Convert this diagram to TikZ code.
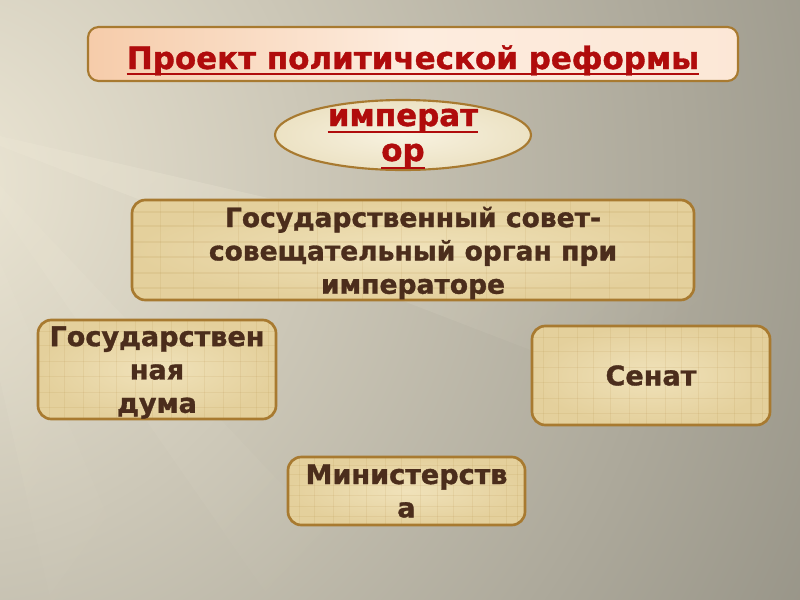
\documentclass[tikz,border=0pt]{standalone}
\usepackage{fontspec}
\setmainfont{DejaVu Sans}[BoldFeatures={FakeBold=1.2}]
\usetikzlibrary{shapes.geometric,fadings,calc}
\definecolor{bggray}{RGB}{141,138,126}
\definecolor{bglight}{RGB}{236,230,212}
\definecolor{papyrus}{RGB}{228,208,156}
\definecolor{papyruslight}{RGB}{240,226,186}
\definecolor{boxborder}{RGB}{168,122,48}
\definecolor{txtbrown}{RGB}{75,45,28}
\definecolor{titlered}{RGB}{176,12,12}
\definecolor{peach}{RGB}{253,236,222}
\definecolor{peachedge}{RGB}{246,204,170}
\definecolor{cream}{RGB}{248,242,224}
\definecolor{creamedge}{RGB}{236,226,196}
\tikzfading[name=rayfade, left color=transparent!0, right color=transparent!100]
\tikzset{
  papyline/.style={draw=boxborder, opacity=0.10, line width=0.8pt},
  paperbox/.style={draw=boxborder, line width=2pt, rounded corners=10pt,
    inner color=papyruslight, outer color=papyrus,
    text=txtbrown, font=\bfseries\fontsize{20.3}{25}\selectfont, align=center,
    path picture={
      \foreach \f in {0.05,0.11,0.19,0.26,0.33,0.41,0.48,0.56,0.63,0.70,0.78,0.85,0.92,0.97}{
        \draw[papyline] ($(path picture bounding box.south west)!\f!(path picture bounding box.south east)$) --
                        ($(path picture bounding box.north west)!\f!(path picture bounding box.north east)$);}
      \foreach \f in {0.12,0.27,0.43,0.58,0.74,0.88}{
        \draw[papyline] ($(path picture bounding box.south west)!\f!(path picture bounding box.north west)$) --
                        ($(path picture bounding box.south east)!\f!(path picture bounding box.north east)$);}
    }},
  boxtext/.style={text=txtbrown, font=\bfseries\fontsize{20.3}{25}\selectfont, align=center, inner sep=0pt},
  titlebox/.style={draw=boxborder, line width=1.6pt, rounded corners=8pt,
    left color=peachedge, right color=peach!85!peachedge, middle color=peach},
  redtext/.style={text=titlered, font=\bfseries\fontsize{23.2}{26}\selectfont, inner sep=0pt, anchor=base},
  redline/.style={draw=titlered, line width=2pt},
  ovalbox/.style={ellipse, draw=boxborder, line width=1.6pt, inner color=cream, outer color=creamedge}
}
\begin{document}
\begin{tikzpicture}[x=0.75pt,y=-0.75pt]
\useasboundingbox (0,0) rectangle (800,600);
% background
\fill[bggray] (0,0) rectangle (800,600);
\begin{scope}
\clip (0,0) rectangle (800,600);
\shade[inner color=bglight, outer color=bggray] (-60,180) circle (1100);
\fill[bglight, opacity=0.40, path fading=rayfade, fading angle=-25] (-60,120) -- (720,300) -- (720,420) -- cycle;
\fill[bglight, opacity=0.22, path fading=rayfade, fading angle=-45] (-60,120) -- (430,640) -- (300,640) -- cycle;
\fill[bglight, opacity=0.20, path fading=rayfade, fading angle=-60] (-60,120) -- (160,640) -- (60,640) -- cycle;
\end{scope}
% title
\node[titlebox, minimum width={650*0.75pt}, minimum height={54*0.75pt}] (title) at (413,54) {};
\node[redtext] (titletxt) at (413,69) {Проект политической реформы};
\draw[redline] ($(titletxt.base west)+(0,5)$) -- ($(titletxt.base east)+(0,5)$);
% emperor
\node[ovalbox, minimum width={256*0.75pt}, minimum height={70*0.75pt}] (emp) at (403,135) {};
\node[redtext] (emp1) at (403,126) {императ};
\node[redtext] (emp2) at (403,161) {ор};
\draw[redline] ($(emp1.base west)+(0,6)$) -- ($(emp1.base east)+(0,6)$);
\draw[redline] ($(emp2.base west)+(0,7)$) -- ($(emp2.base east)+(0,7)$);
% boxes
\node[paperbox, minimum width={562*0.75pt}, minimum height={100*0.75pt}] (council) at (413,250) {};
\node[boxtext, font=\bfseries\fontsize{19.9}{25}\selectfont] (counciltxt) at (413,253)
  {Государственный совет-\\совещательный орган при\\императоре};
\node[paperbox, minimum width={238*0.75pt}, minimum height={99*0.75pt}] (duma) at (157,369.5) {};
\node[boxtext] (dumatxt) at (157,372.5) {Государствен\\ная\\дума};
\node[paperbox, minimum width={238*0.75pt}, minimum height={99*0.75pt}] (senate) at (651,375.5)
  {Сенат};
\node[paperbox, minimum width={237*0.75pt}, minimum height={68*0.75pt}] (min) at (406.5,491)
  {Министерств\\а};
\end{tikzpicture}
\end{document}
